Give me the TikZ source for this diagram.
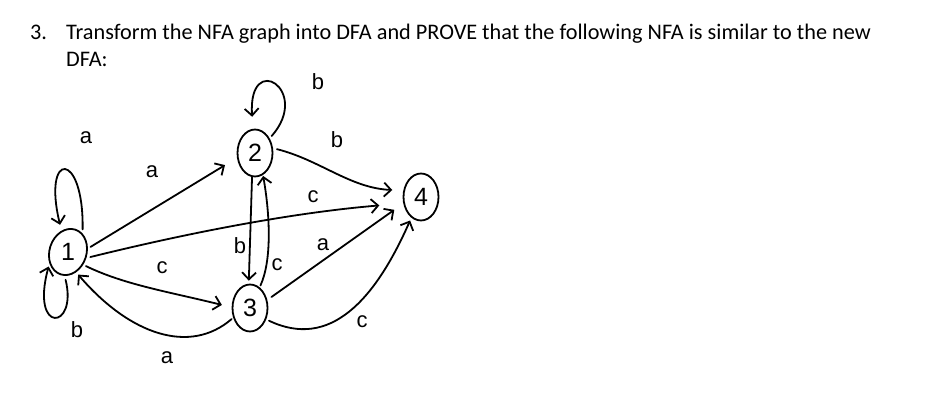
\documentclass[tikz,border=0pt]{standalone}
\usepackage{fontspec}
\setmainfont{Carlito}
\newfontfamily\hand{Liberation Sans}
\usetikzlibrary{shapes.geometric,arrows.meta}
\begin{document}
\begin{tikzpicture}[x=1pt,y=-1pt,
  st/.style={draw,ellipse,line width=1.8pt,minimum width=35pt,minimum height=47pt,inner sep=0pt,font=\hand\fontsize{25}{25}\selectfont},
  arr/.style={line width=1.8pt,-{Straight Barb[length=7pt,width=14pt,line width=1.8pt]},line cap=round},
  lab/.style={font=\hand\fontsize{22}{22}\selectfont,inner sep=0pt},
  ttl/.style={font=\fontsize{22.25}{26}\selectfont,inner sep=0pt,anchor=base west}]
\useasboundingbox (0,0) rectangle (936,406);
\node[ttl] (num) at (30,40) {3.};
\node[ttl] (t1) at (66,40) {Transform the NFA graph into DFA and PROVE that the following NFA is similar to the new};
\node[ttl] (t2) at (66,67) {DFA:};
% states
\node[st,rotate=-18,minimum width=37pt] (n1) at (68,252) {\rotatebox{18}{1}};
\node[st] (n2) at (255,153) {2};
\node[st] (n3) at (250,308) {3};
\node[st] (n4) at (421,197) {4};
% loops on 1
\draw[arr,shorten <=4pt,shorten >=6pt] (n1.70) .. controls (84,150) and (42,150) .. (n1.125);
\draw[arr,shorten <=4pt,shorten >=3pt] (n1.-80) .. controls (78,330) and (30,335) .. (n1.-130);
% loop on 2
\draw[arr,shorten <=3pt,shorten >=12pt] (n2.45) .. controls (312,90) and (248,50) .. (n2.95);
% edges
\draw[arr,shorten <=3pt,shorten >=14pt] (n1.28) -- (n2.195);
\draw[arr,shorten <=4pt,shorten >=24pt] (n1.0) .. controls (200,230) and (300,212) .. (n4.200);
\draw[arr,shorten <=3pt,shorten >=10pt] (n1.-22) .. controls (125,285) and (170,292) .. (n3.178);
\draw[arr,shorten <=2pt,shorten >=3pt] (n3.-150) .. controls (190,355) and (130,335) .. (n1.-50);
\draw[arr,shorten <=0pt,shorten >=3pt] (n2.-97) -- (n3.93);
\draw[arr,shorten <=2pt,shorten >=1pt] (n3.65) .. controls (272,260) and (270,215) .. (n2.-70);
\draw[arr,shorten <=4pt,shorten >=11pt] (n2.15) .. controls (320,160) and (350,188) .. (n4.160);
\draw[arr,shorten <=5pt,shorten >=11pt] (n3.25) -- (n4.-160);
\draw[arr,shorten <=3pt,shorten >=3pt] (n3.-35) .. controls (330,350) and (375,300) .. (n4.-115);
% labels
\node[lab] (la11) at (86,138) {a};
\node[lab] (lb11) at (77,330) {b};
\node[lab] (la12) at (152,172) {a};
\node[lab] (lc14) at (313,197) {c};
\node[lab] (lc13) at (162,268) {c};
\node[lab] (la31) at (167,358) {a};
\node[lab] (lb22) at (318,82) {b};
\node[lab] (lb23) at (240,246) {b};
\node[lab] (lc32) at (277,265) {c};
\node[lab] (lb24) at (337,140) {b};
\node[lab] (la34) at (323,245) {a};
\node[lab] (lc34) at (362,322) {c};
\end{tikzpicture}
\end{document}
